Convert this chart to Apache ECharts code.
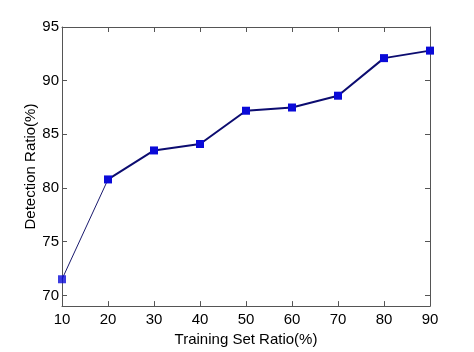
<!DOCTYPE html>
<html>
<head>
<meta charset="utf-8">
<script src="https://cdn.jsdelivr.net/npm/echarts@6/dist/echarts.min.js"></script>
<style>
  html, body { margin: 0; padding: 0; background: #fff; }
  #chart { width: 474px; height: 352px; }
</style>
</head>
<body>
<div id="chart"></div>
<script>
// training set ratio (%) and detection ratio (%)
var trainRatio = [10, 20, 30, 40, 50, 60, 70, 80, 90];
var detectRatio = [71.5, 80.8, 83.5, 84.1, 87.2, 87.5, 88.6, 92.1, 92.8];
var yTicks = [70, 75, 80, 85, 90, 95];

var font = "Liberation Sans, Arial, sans-serif";

// first segment is drawn thinner in the original
var firstSeg = trainRatio.map(function (x, i) {
  return i < 2 ? [x, detectRatio[i]] : [x, null];
});
var mainSeg = trainRatio.map(function (x, i) {
  return i >= 1 ? [x, detectRatio[i]] : [x, null];
});

var axisLine = { show: true, lineStyle: { color: "#555", width: 1 } };
var tick = { show: true, inside: true, length: 5, lineStyle: { color: "#555" } };
var yTick = { show: true, inside: true, length: 5, lineStyle: { color: "#555" }, customValues: yTicks };

var chart = echarts.init(document.getElementById("chart"));
chart.setOption({
  animation: false,
  backgroundColor: "#fff",
  grid: { left: 62, right: 44, top: 27, bottom: 39 },
  xAxis: [
    {
      type: "value",
      min: 10,
      max: 90,
      interval: 10,
      name: "Training Set Ratio(%)",
      nameLocation: "middle",
      nameGap: 24,
      nameTextStyle: { color: "#000", fontSize: 15, fontFamily: font },
      axisLine: axisLine,
      axisTick: tick,
      axisLabel: { color: "#000", fontSize: 15, fontFamily: font, margin: 6 },
      splitLine: { show: false }
    },
    {
      type: "value",
      position: "top",
      min: 10,
      max: 90,
      interval: 10,
      axisLine: axisLine,
      axisTick: tick,
      axisLabel: { show: false },
      splitLine: { show: false }
    }
  ],
  yAxis: [
    {
      type: "value",
      min: 69,
      max: 95,
      axisLabel: {
        color: "#000", fontSize: 15, fontFamily: font, margin: 3,
        customValues: yTicks
      },
      name: "Detection Ratio(%)",
      nameLocation: "middle",
      nameGap: 24,
      nameMoveOverlap: false,
      nameRotate: 90,
      nameTextStyle: { color: "#000", fontSize: 15, fontFamily: font },
      axisLine: axisLine,
      axisTick: yTick,
      splitLine: { show: false }
    },
    {
      type: "value",
      position: "right",
      min: 69,
      max: 95,
      axisLine: axisLine,
      axisTick: yTick,
      axisLabel: { show: false },
      splitLine: { show: false }
    }
  ],
  series: [
    {
      type: "line",
      data: firstSeg,
      symbol: "none",
      lineStyle: { color: "#1a1a6e", width: 1 },
      z: 2
    },
    {
      type: "line",
      data: mainSeg,
      symbol: "rect",
      symbolSize: 8,
      itemStyle: { color: "#0a0ad8", borderWidth: 0 },
      lineStyle: { color: "#0c0c70", width: 2 },
      z: 3
    },
    {
      type: "scatter",
      data: [[trainRatio[0], detectRatio[0]]],
      symbol: "rect",
      symbolSize: 8,
      itemStyle: { color: "#0a0ad8" },
      z: 4
    }
  ]
});
</script>
</body>
</html>
